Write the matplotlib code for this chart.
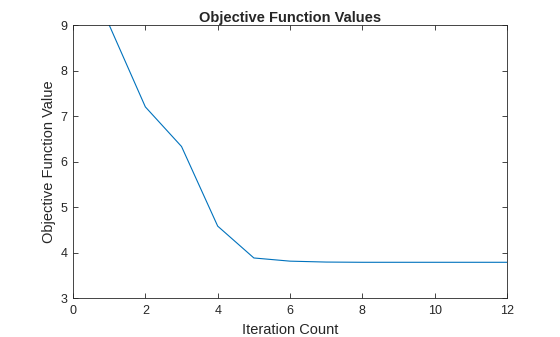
import matplotlib
matplotlib.use("Agg")
import matplotlib.pyplot as plt

iterations = [1, 2, 3, 4, 5, 6, 7, 8, 9, 10, 11, 12]
objective_values = [9.0, 7.2, 6.33, 4.58, 3.88, 3.81, 3.79, 3.785, 3.785, 3.785, 3.785, 3.785]
x_ticks = [0, 2, 4, 6, 8, 10, 12]
y_ticks = [3, 4, 5, 6, 7, 8, 9]

plt.rcParams["font.family"] = ["Liberation Sans", "DejaVu Sans"]
dark = "#262626"

fig = plt.figure(figsize=(5.6, 3.37), dpi=100)
ax = fig.add_axes([0.1304, 0.1157, 0.775, 0.8101])
ax.plot(iterations, objective_values, color="#0072BD", linewidth=0.8)
ax.set_xlim(0, 12)
ax.set_ylim(3, 9)
ax.set_xticks(x_ticks)
ax.set_yticks(y_ticks)
ax.tick_params(direction="in", length=3.5, width=0.6, colors=dark, labelsize=9,
               top=True, right=True, pad=4)
ax.tick_params(axis="x", pad=5)
for spine in ax.spines.values():
    spine.set_color(dark)
    spine.set_linewidth(0.6)
ax.set_xlabel("Iteration Count", fontsize=10.5, color=dark, labelpad=4)
ax.set_ylabel("Objective Function Value", fontsize=10.5, color=dark, labelpad=3)
ax.set_title("Objective Function Values", fontsize=10.5, fontweight="bold", color=dark, pad=2)

fig.savefig("out.png", dpi=100)
